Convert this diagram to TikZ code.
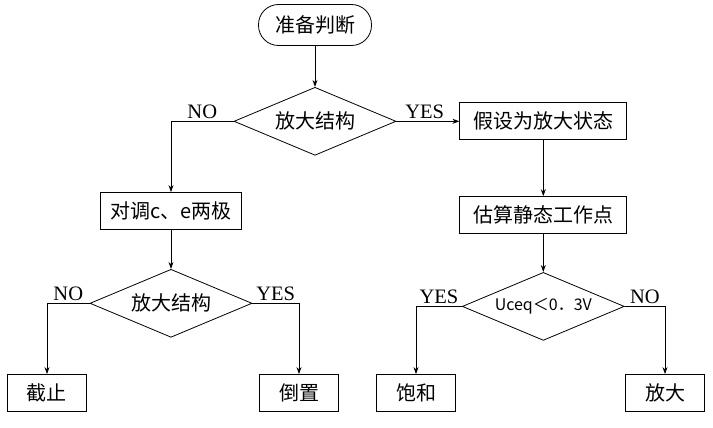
\documentclass[tikz,border=0pt]{standalone}
\usepackage{fontspec}
\setmainfont{Liberation Serif}
\newfontfamily\cjk{Noto Sans CJK SC}
\usepackage{tikz}
\usetikzlibrary{shapes.geometric, arrows.meta, positioning, calc}

\begin{document}
\begin{tikzpicture}[
    x=1pt, y=1pt,
    >={Stealth[length=7pt,width=5pt]}, line width=0.8pt,
    terminal/.style={
        rectangle,
        draw=black,
        rounded corners=20pt,
        minimum width=113pt,
        minimum height=41pt,
        font=\cjk\fontsize{20}{23}\selectfont
    },
    decision/.style={
        diamond,
        draw=black,
        aspect=2.4,
        inner sep=0pt,
        minimum width=162pt,
        minimum height=68pt,
        font=\cjk\fontsize{20}{23}\selectfont
    },
    process/.style={
        rectangle,
        draw=black,
        inner xsep=10pt,
        minimum height=37pt,
        font=\cjk\fontsize{20}{23}\selectfont
    },
    outcome/.style={
        rectangle,
        draw=black,
        minimum width=79pt,
        minimum height=37pt,
        font=\cjk\fontsize{20}{23}\selectfont
    },
    answer/.style={
        above, inner sep=2pt,
        font=\fontsize{20.5}{23}\selectfont
    }
]
    \useasboundingbox (0,0) rectangle (713,-428);

    % =========================================================
    % MAIN BRANCH
    % =========================================================
    \node [terminal] (start) at (315,-25) {准备判断};

    \node [decision, below=41pt of start] (struct1) {放大结构};

    \node [process, right=63pt of struct1, minimum width=167pt] (assume) {假设为放大状态};

    \node [process, below=56pt of assume, minimum width=167pt] (estimate) {估算静态工作点};

    \node [decision, below=38pt of estimate, font=\cjk\fontsize{16}{19}\selectfont] (uceq) {Uceq＜0．3V};

    % =========================================================
    % LEFT BRANCH AND RESULTS
    % =========================================================
    \node [process] (swap) at (171,-211) {对调c、e两极};

    \node [decision, below=39pt of swap] (struct2) {放大结构};

    \node [outcome] (cutoff) at (47,-393) {截止};
    \node [outcome] (invert) at (299,-393) {倒置};
    \node [outcome] (saturate) at (416,-393) {饱和};
    \node [outcome] (amplify) at (665,-393) {放大};

    % =========================================================
    % CONNECTIONS
    % =========================================================
    \draw [->] (start.south) -- (struct1.north);
    \draw [->] (struct1.east) -- node[answer, pos=0.45] {YES} (assume.west);
    \draw [->] (struct1.west) -| node[answer, pos=0.25] {NO} (swap.north);
    \draw [->] (assume.south) -- (estimate.north);
    \draw [->] (estimate.south) -- (uceq.north);
    \draw [->] (uceq.west) -| node[answer, pos=0.25] {YES} (saturate.north);
    \draw [->] (uceq.east) -| node[answer, pos=0.25] {NO} (amplify.north);
    \draw [->] (swap.south) -- (struct2.north);
    \draw [->] (struct2.west) -| node[answer, pos=0.25] {NO} (cutoff.north);
    \draw [->] (struct2.east) -| node[answer, pos=0.25] {YES} (invert.north);

\end{tikzpicture}
\end{document}
